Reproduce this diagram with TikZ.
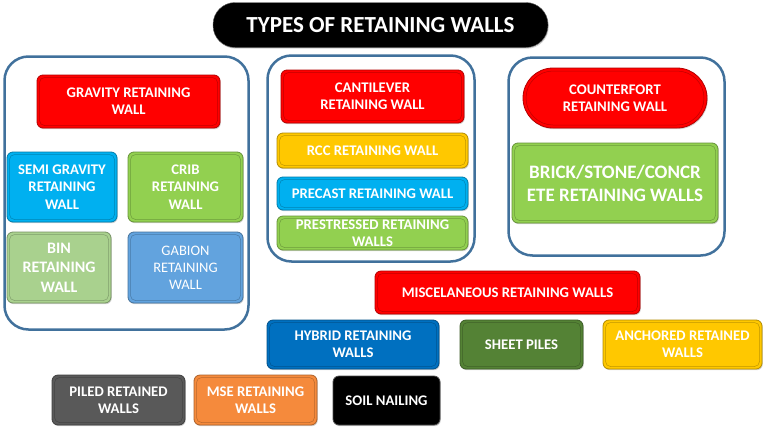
\documentclass[tikz,border=0pt]{standalone}
\usepackage{fontspec}
\setmainfont{Carlito}
\usepackage{tikz}
\usepackage{xcolor}
\usetikzlibrary{shadows}

\definecolor{groupblue}{HTML}{41719C}
\definecolor{wallred}{HTML}{FF0000}
\definecolor{wallcyan}{HTML}{00B0F0}
\definecolor{wallgreen}{HTML}{92D050}
\definecolor{walllightgreen}{HTML}{A9D18E}
\definecolor{wallsky}{HTML}{62A3DE}
\definecolor{wallgold}{HTML}{FFC800}
\definecolor{wallblue}{HTML}{0070C0}
\definecolor{wallolive}{HTML}{548235}
\definecolor{wallgray}{HTML}{595959}
\definecolor{wallorange}{HTML}{F58A3C}

\begin{document}
\begin{tikzpicture}[x=1pt, y=-1pt,
  group/.style={rectangle, draw=groupblue, line width=2.5pt, rounded corners=24pt},
  wallbox/.style={rectangle, fill=#1, draw=#1!70!black, line width=0.8pt, rounded corners=6pt,
    text=white, align=center, inner sep=2pt,
    drop shadow={shadow xshift=0.8pt, shadow yshift=-1.2pt, opacity=0.35},
    path picture={\draw[#1!75!black, line width=0.5pt, rounded corners=5pt]
      ([shift={(2.5pt,-2.5pt)}]path picture bounding box.north west) rectangle
      ([shift={(-2.5pt,2.5pt)}]path picture bounding box.south east);},
    font=\fontsize{14.7}{17.3}\selectfont\bfseries},
  walltext/.style 2 args={font=\fontsize{#1}{#2}\selectfont\bfseries}
]
\useasboundingbox (0,0) rectangle (768,437);

% title
\node[rectangle, fill=black, draw=black!60, rounded corners=22pt, minimum width=335pt, minimum height=45pt,
  text=white, font=\fontsize{23}{26}\selectfont\bfseries,
  drop shadow={shadow xshift=0.8pt, shadow yshift=-1.2pt, opacity=0.35}] (title) at (380.5,25) {TYPES OF RETAINING WALLS};

% the three groups
\node[group, minimum width=244pt, minimum height=273pt] (gravitygroup) at (126.5,193) {};
\node[group, minimum width=207pt, minimum height=206pt] (cantilevergroup) at (371,158.5) {};
\node[group, minimum width=216pt, minimum height=198pt] (counterfortgroup) at (616.5,156.5) {};

% gravity walls
\node[wallbox=wallred, minimum width=183pt, minimum height=53pt] (gravity) at (128.5,101.5) {GRAVITY RETAINING\\WALL};
\node[wallbox=wallcyan, minimum width=110pt, minimum height=70pt] (semigravity) at (62,187) {SEMI GRAVITY\\RETAINING\\WALL};
\node[wallbox=wallgreen, minimum width=115pt, minimum height=70pt] (crib) at (185.5,187) {CRIB\\RETAINING\\WALL};
\node[wallbox=walllightgreen, minimum width=104pt, minimum height=71pt, walltext={16}{19.5}] (bin) at (59,267.5) {BIN\\RETAINING\\WALL};
\node[wallbox=wallsky, minimum width=115pt, minimum height=71pt,
  font=\fontsize{14.5}{17}\selectfont] (gabion) at (185.5,267.5) {GABION\\RETAINING\\WALL};

% cantilever walls
\node[wallbox=wallred, minimum width=183pt, minimum height=53pt] (cantilever) at (372.5,96.5) {CANTILEVER\\RETAINING WALL};
\node[wallbox=wallgold, minimum width=191pt, minimum height=35pt] (rcc) at (372.5,150.5) {RCC RETAINING WALL};
\node[wallbox=wallcyan, minimum width=191pt, minimum height=33pt] (precast) at (372.5,193.5) {PRECAST RETAINING WALL};
\node[wallbox=wallgreen, minimum width=191pt, minimum height=34pt, inner sep=0pt] (prestressed) at (372.5,233) {PRESTRESSED RETAINING\\WALLS};

% counterfort walls
\node[wallbox=wallred, minimum width=184pt, minimum height=60pt, rounded corners=30pt,
  path picture={\draw[wallred!75!black, line width=0.5pt, rounded corners=27pt]
    ([shift={(3pt,-3pt)}]path picture bounding box.north west) rectangle
    ([shift={(-3pt,3pt)}]path picture bounding box.south east);}] (counterfort) at (615,98) {COUNTERFORT\\RETAINING WALL};
\node[wallbox=wallgreen, minimum width=206pt, minimum height=80pt, walltext={19}{23}] (brick) at (615,183) {BRICK/STONE/CONCR\\ETE RETAINING WALLS};

% miscellaneous walls
\node[wallbox=wallred, minimum width=265pt, minimum height=43pt] (misc) at (507.5,292.5) {MISCELANEOUS RETAINING WALLS};
\node[wallbox=wallblue, minimum width=172pt, minimum height=49pt] (hybrid) at (353,344.5) {HYBRID RETAINING\\WALLS};
\node[wallbox=wallolive, minimum width=123pt, minimum height=49pt] (sheetpiles) at (521.5,344.5) {SHEET PILES};
\node[wallbox=wallgold, minimum width=159pt, minimum height=49pt] (anchored) at (682.5,344.5) {ANCHORED RETAINED\\WALLS};
\node[wallbox=wallgray, minimum width=133pt, minimum height=50pt] (piled) at (118.5,400) {PILED RETAINED\\WALLS};
\node[wallbox=wallorange, minimum width=123pt, minimum height=50pt] (mse) at (255.5,400) {MSE RETAINING\\WALLS};
\node[wallbox=black, minimum width=107pt, minimum height=49pt, draw=black!70] (soilnailing) at (386.5,400.5) {SOIL NAILING};
\end{tikzpicture}
\end{document}
